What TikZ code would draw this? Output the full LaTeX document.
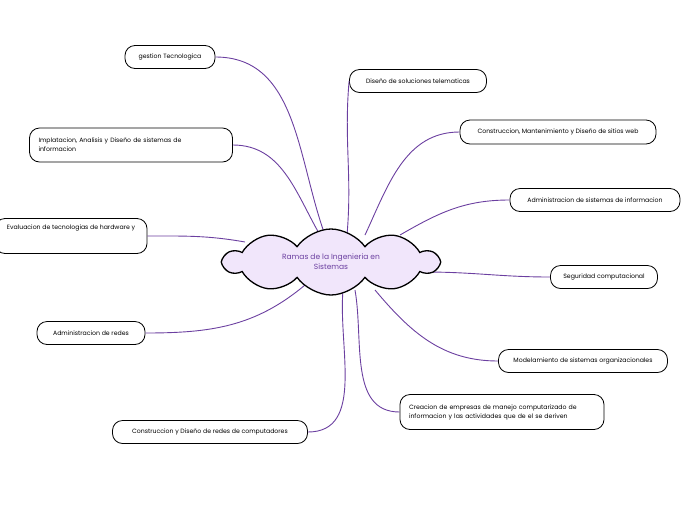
\documentclass[tikz,border=0pt]{standalone}
\usepackage{fontspec}
\setmainfont{Poppins}
\usetikzlibrary{shapes.symbols}
\definecolor{conn}{HTML}{6B3FA0}
\definecolor{cloudfill}{HTML}{F1E6FB}
\tikzset{
  leaf/.style={draw=black, fill=white, rounded corners=10pt, line width=0.8pt, font=\fontsize{6.2}{9}\selectfont, align=left, inner xsep=9pt},
  link/.style={draw=conn, line width=0.9pt},
}
\begin{document}
\begin{tikzpicture}[x=1pt,y=-1pt]
\useasboundingbox (0,0) rectangle (696,520);
\clip (0,0) rectangle (696,520);
\node[leaf, minimum width=90pt, minimum height=23pt] (g) at (170,57) {gestion Tecnologica};
\node[leaf, minimum width=137pt, minimum height=23pt] (t) at (418,81) {Diseño de soluciones telematicas};
\node[leaf, minimum width=196pt, minimum height=24pt] (w) at (558,132) {Construccion, Mantenimiento y Diseño de sitios web};
\node[leaf, minimum width=170pt, minimum height=23pt] (a) at (595,200) {Administracion de sistemas de informacion};
\node[leaf, minimum width=107pt, minimum height=23pt] (s) at (604,277) {Seguridad computacional};
\node[leaf, minimum width=169pt, minimum height=23pt] (m) at (583,361) {Modelamiento de sistemas organizacionales};
\node[leaf, minimum width=204pt, minimum height=35pt, text width=186pt] (e) at (502,412) {Creacion de empresas de manejo computarizado de\\informacion y las actividades que de el se deriven};
\node[leaf, minimum width=195pt, minimum height=23pt] (r) at (210,432) {Construccion y Diseño de redes de computadores};
\node[leaf, minimum width=108pt, minimum height=23pt] (ar) at (91,333) {Administracion de redes};
\node[leaf, minimum width=152pt, minimum height=35pt] (ev) at (71,236) {Evaluacion de tecnologias de hardware y\\[8pt]};
\node[leaf, minimum width=203pt, minimum height=34pt, text width=185pt] (im) at (131,145) {Implatacion, Analisis y Diseño de sistemas de\\informacion};
\coordinate (c1) at (325,235);
\coordinate (c2) at (347,235);
\coordinate (c3) at (365,235);
\coordinate (c4) at (400,235);
\coordinate (c5) at (425,272);
\coordinate (c6) at (375,290);
\coordinate (c7) at (355,290);
\coordinate (c8) at (343,290);
\coordinate (c9) at (305,285);
\coordinate (c10) at (245,242);
\coordinate (c11) at (320,235);
\draw[link] (g.east) to[out=0,in=110] (c1);
\draw[link] (t.west) to[out=265,in=85] (c2);
\draw[link] (w.west) to[out=180,in=65] (c3);
\draw[link] (a.west) to[out=180,in=30] (c4);
\draw[link] (s.west) to[out=180,in=0] (c5);
\draw[link] (m.west) to[out=180,in=-50] (c6);
\draw[link] (e.west) to[out=180,in=-80] (c7);
\draw[link] (r.east) to[out=0,in=-95] (c8);
\draw[link] (ar.east) to[out=0,in=-140] (c9);
\draw[link] (ev.east) to[out=0,in=170] (c10);
\draw[link] (im.east) to[out=0,in=120] (c11);
\node[cloud, cloud puffs=10, cloud puff arc=110, aspect=3.2, draw=black, line width=1.3pt, fill=cloudfill, minimum width=214pt, minimum height=66pt, inner sep=0pt, text=conn, font=\fontsize{7.5}{10}\selectfont, align=center] (cl) at (331,262) {Ramas de la Ingenieria en\\Sistemas};
\end{tikzpicture}
\end{document}
